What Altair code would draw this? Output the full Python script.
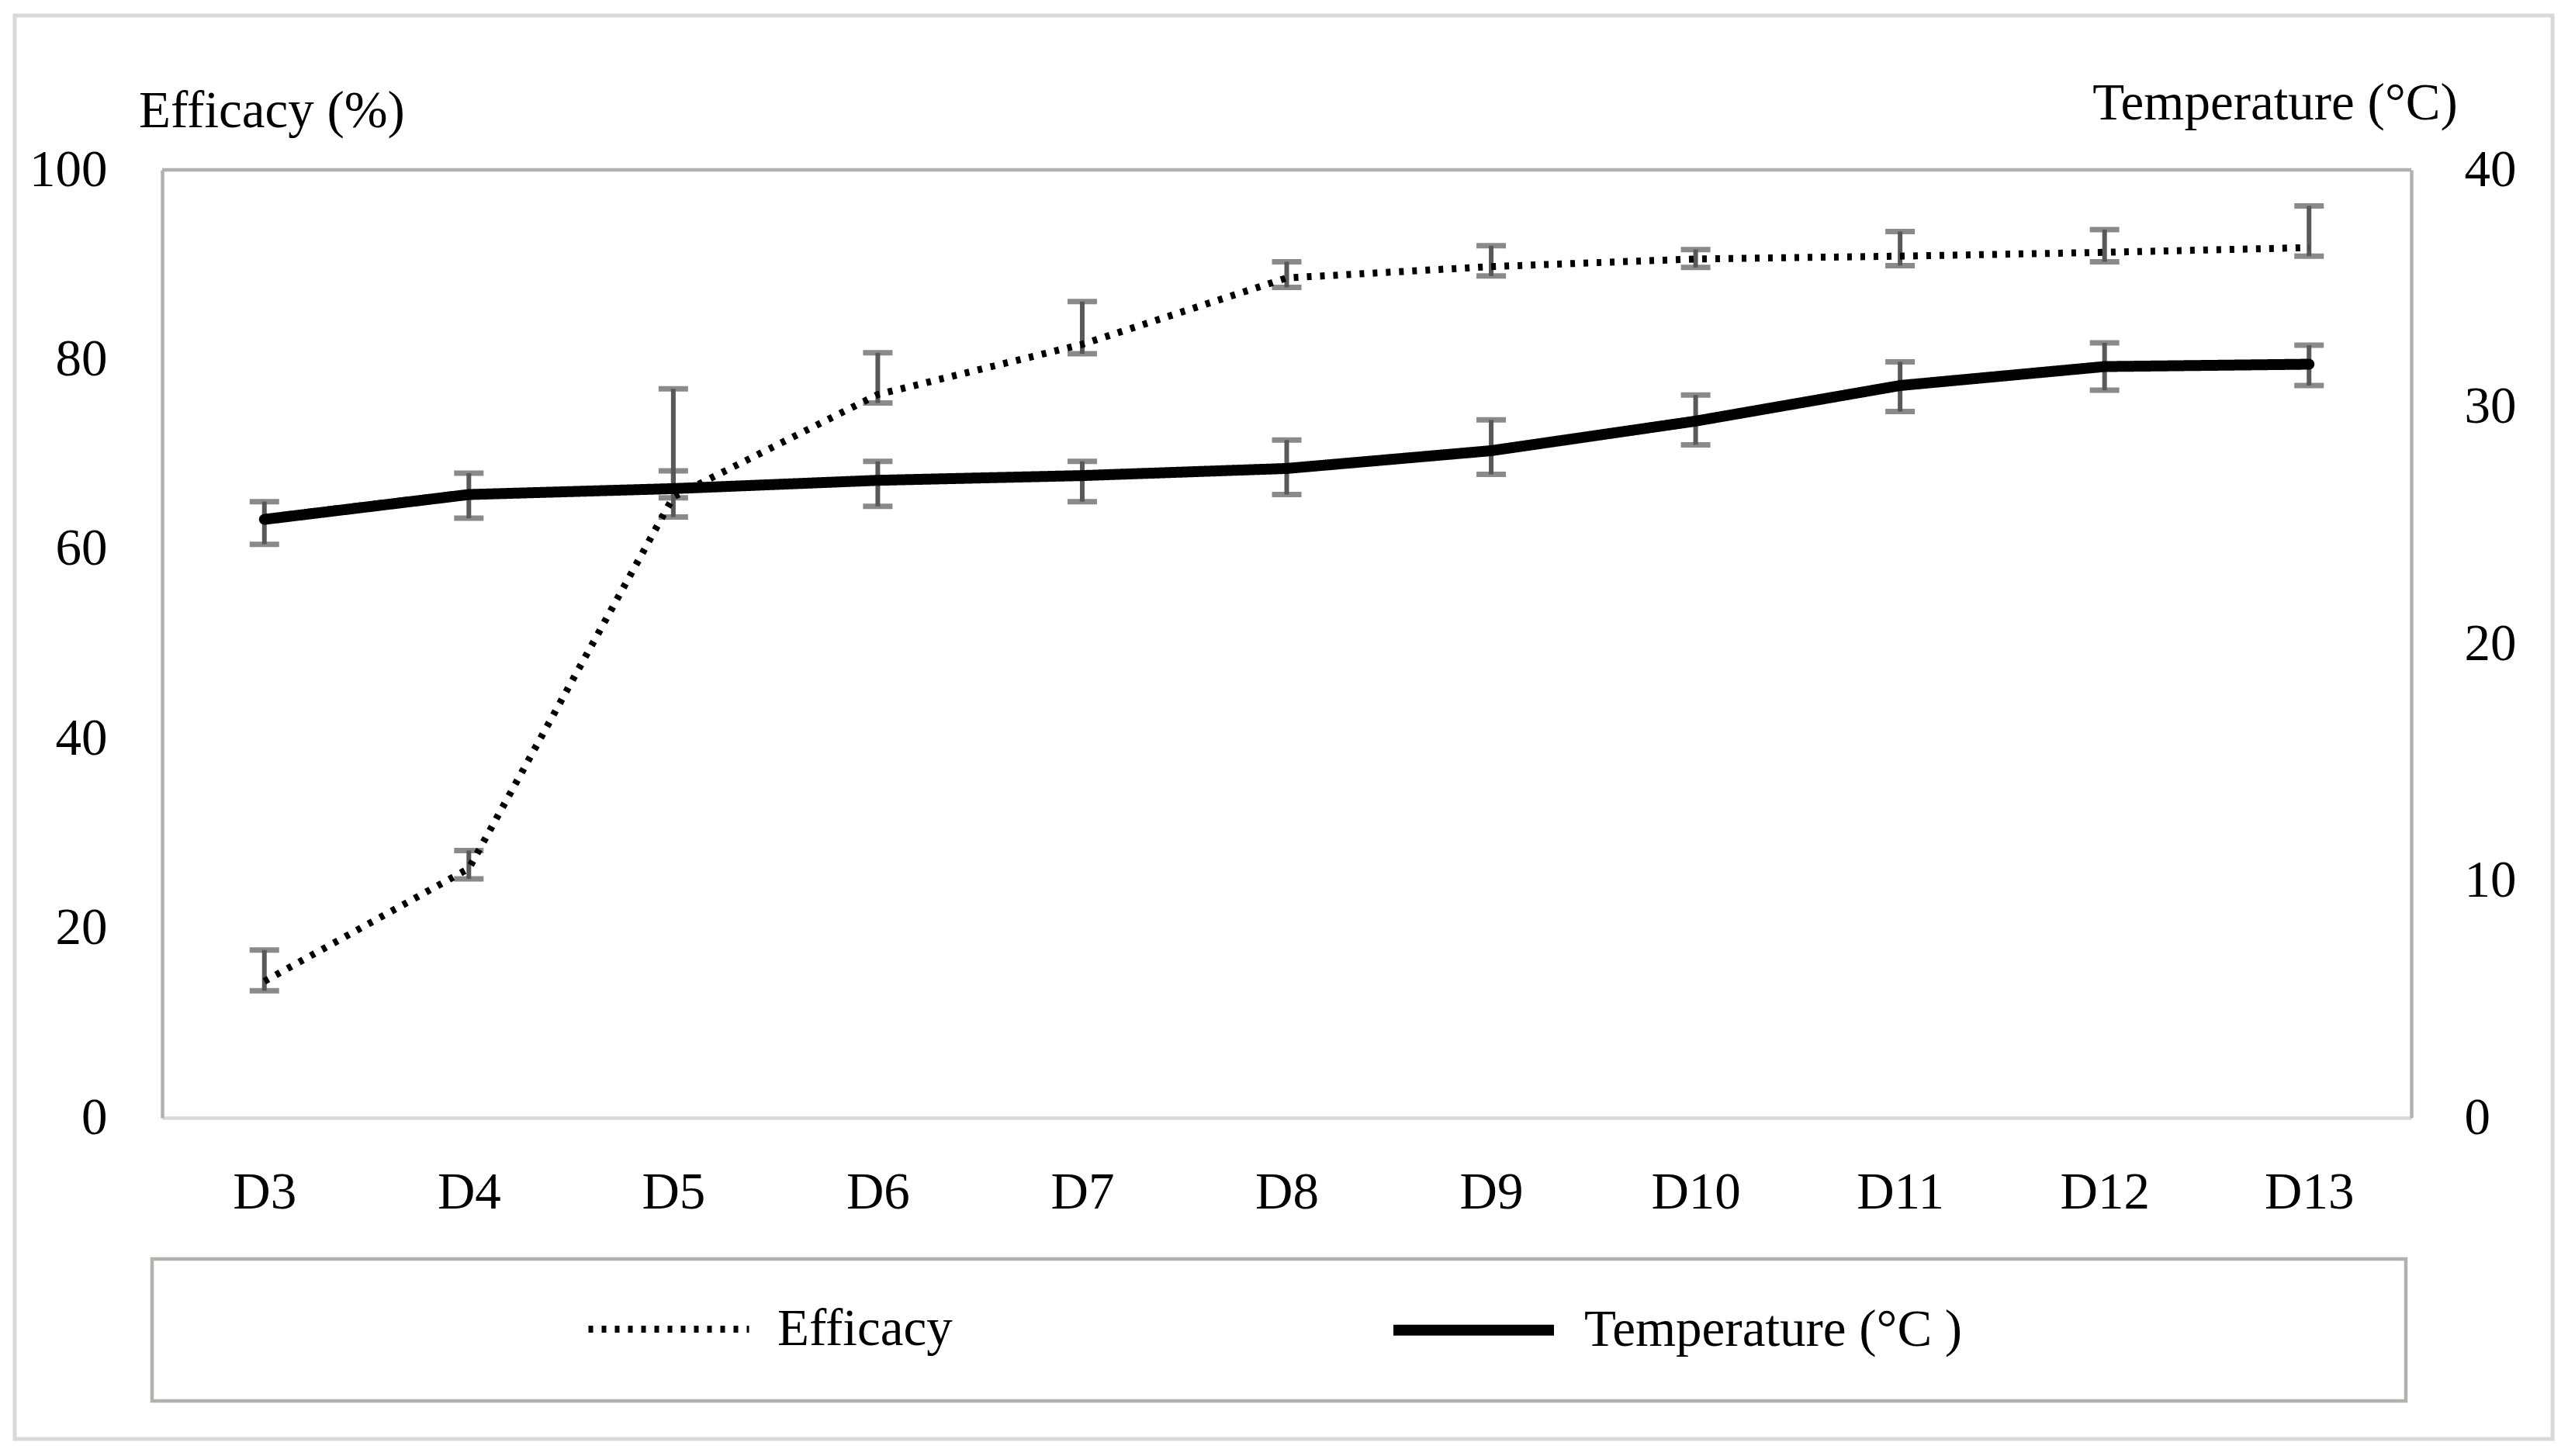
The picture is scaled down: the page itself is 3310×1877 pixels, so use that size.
import altair as alt
import pandas as pd

# Sampling days
days = ["D3", "D4", "D5", "D6", "D7", "D8", "D9", "D10", "D11", "D12", "D13"]

# Efficacy (%) with lower / upper error-bar ends
efficacy = [14.4, 26.3, 65.5, 76.3, 81.6, 88.6, 89.8, 90.6, 90.9, 91.3, 91.8]
efficacy_low = [13.4, 25.2, 65.4, 75.4, 80.6, 87.6, 88.8, 89.7, 89.9, 90.3, 90.9]
efficacy_high = [17.7, 28.2, 76.9, 80.7, 86.1, 90.3, 92.0, 91.6, 93.5, 93.7, 96.2]

# Temperature (°C) with lower / upper error-bar ends
temperature = [25.25, 26.3, 26.55, 26.9, 27.1, 27.4, 28.15, 29.4, 30.9, 31.7, 31.8]
temperature_low = [24.2, 25.3, 25.35, 25.8, 26.0, 26.3, 27.15, 28.4, 29.8, 30.7, 30.9]
temperature_high = [26.0, 27.2, 27.3, 27.7, 27.7, 28.6, 29.45, 30.5, 31.9, 32.7, 32.6]

series_names = ["Efficacy", "Temperature (°C )"]

df = pd.DataFrame({
    "day": days,
    "eff": efficacy, "eff_lo": efficacy_low, "eff_hi": efficacy_high,
    "temp": temperature, "temp_lo": temperature_low, "temp_hi": temperature_high,
})
df["eff_series"] = series_names[0]
df["temp_series"] = series_names[1]

FONT = "Liberation Serif"
FS = 67
W, H = 2899, 1222
BAR = "#595959"
FRAME = "#b3b0b0"
LIGHT = "#d9d9d9"

x_enc = alt.X(
    "day:N", sort=days,
    scale=alt.Scale(type="point", padding=0.5),
    axis=alt.Axis(title=None, labelAngle=0, ticks=False, domainColor=LIGHT,
                  domainWidth=4.5, labelPadding=116, labelBaseline="alphabetic",
                  labelFont=FONT, labelFontSize=FS, labelColor="black", grid=False),
)

eff_scale = alt.Scale(domain=[0, 100], nice=False)
temp_scale = alt.Scale(domain=[0, 40], nice=False)

left_axis = alt.Axis(
    title="Efficacy (%)", values=[0, 20, 40, 60, 80, 100], grid=False, ticks=False,
    domainColor=FRAME, domainWidth=4.5, labelPadding=71, labelBaseline="middle",
    labelFlush=False, labelFont=FONT, labelFontSize=FS, labelColor="black",
    titleAngle=0, titleAlign="center", titleBaseline="alphabetic", titleX=141, titleY=-56,
    titleFont=FONT, titleFontSize=FS, titleFontWeight="normal", titleColor="black",
)
right_axis = alt.Axis(
    title="Temperature (°C)", orient="right", values=[0, 10, 20, 30, 40], grid=False,
    ticks=False, domainColor=FRAME, domainWidth=4.5, labelPadding=68,
    labelBaseline="middle", labelFlush=False, labelFont=FONT, labelFontSize=FS,
    labelColor="black", titleAngle=0, titleAlign="center", titleBaseline="alphabetic",
    titleX=-176, titleY=-66, titleFont=FONT, titleFontSize=FS,
    titleFontWeight="normal", titleColor="black",
)

series_legend = alt.Legend(
    title=None, orient="none", legendX=545, legendY=1385, direction="horizontal",
    symbolType="stroke", symbolSize=42849, labelFont=FONT, labelFontSize=FS,
    labelColor="black", labelOffset=32, labelLimit=0, columnPadding=540, padding=0,
)
color_scale = alt.Scale(domain=series_names, range=["black", "black"])
dash_scale = alt.Scale(domain=series_names, range=[[6, 11], [1, 0]])
width_scale = alt.Scale(domain=series_names, range=[9, 14])

base = alt.Chart(df)

# Error bars: vertical stems and caps
eff_stem = base.mark_rule(color=BAR, strokeWidth=6).encode(
    x=x_enc, y=alt.Y("eff_lo:Q", scale=eff_scale, axis=left_axis), y2="eff_hi:Q")
eff_caps = base.transform_fold(["eff_lo", "eff_hi"], as_=["end", "v"]).mark_tick(
    color=BAR, size=38, thickness=7).encode(
    x=x_enc, y=alt.Y("v:Q", scale=eff_scale, axis=None))
temp_stem = base.mark_rule(color=BAR, strokeWidth=6).encode(
    x=x_enc, y=alt.Y("temp_lo:Q", scale=temp_scale, axis=right_axis), y2="temp_hi:Q")
temp_caps = base.transform_fold(["temp_lo", "temp_hi"], as_=["end", "v"]).mark_tick(
    color=BAR, size=38, thickness=7).encode(
    x=x_enc, y=alt.Y("v:Q", scale=temp_scale, axis=None))

# Series lines
eff_line = base.mark_line().encode(
    x=x_enc, y=alt.Y("eff:Q", scale=eff_scale, axis=None),
    color=alt.Color("eff_series:N", scale=color_scale, legend=series_legend),
    strokeDash=alt.StrokeDash("eff_series:N", scale=dash_scale, legend=series_legend),
    strokeWidth=alt.StrokeWidth("eff_series:N", scale=width_scale, legend=series_legend),
)
temp_line = base.mark_line(strokeJoin="round", strokeCap="round").encode(
    x=x_enc, y=alt.Y("temp:Q", scale=temp_scale, axis=None),
    color=alt.Color("temp_series:N", scale=color_scale, legend=series_legend),
    strokeDash=alt.StrokeDash("temp_series:N", scale=dash_scale, legend=series_legend),
    strokeWidth=alt.StrokeWidth("temp_series:N", scale=width_scale, legend=series_legend),
)

# Frame pieces: top edge of the plot, legend box, outer border
one = alt.Data(values=[{"k": 0}])
top_edge = alt.Chart(one).mark_rule(color=FRAME, strokeWidth=4.5).encode(
    x=alt.value(0), x2=alt.value(W), y=alt.value(0))
legend_box = alt.Chart(one).mark_rect(fill=None, stroke=FRAME, strokeWidth=4.5).encode(
    x=alt.value(-13), x2=alt.value(2892), y=alt.value(1404), y2=alt.value(1587))
outer_box = alt.Chart(one).mark_rect(fill=None, stroke=LIGHT, strokeWidth=5).encode(
    x=alt.value(-190), x2=alt.value(3081), y=alt.value(-199), y2=alt.value(1636))

chart = alt.layer(
    outer_box, legend_box, top_edge,
    eff_stem, eff_caps, temp_stem, temp_caps, eff_line, temp_line,
).resolve_scale(y="independent").properties(
    width=W, height=H,
    autosize=alt.AutoSizeParams(type="none"),
    padding={"left": 209, "top": 219, "right": 202, "bottom": 436},
    background="white",
).configure_view(stroke=None)

chart.save("out.html", embed_options={"renderer": "svg", "actions": False})
